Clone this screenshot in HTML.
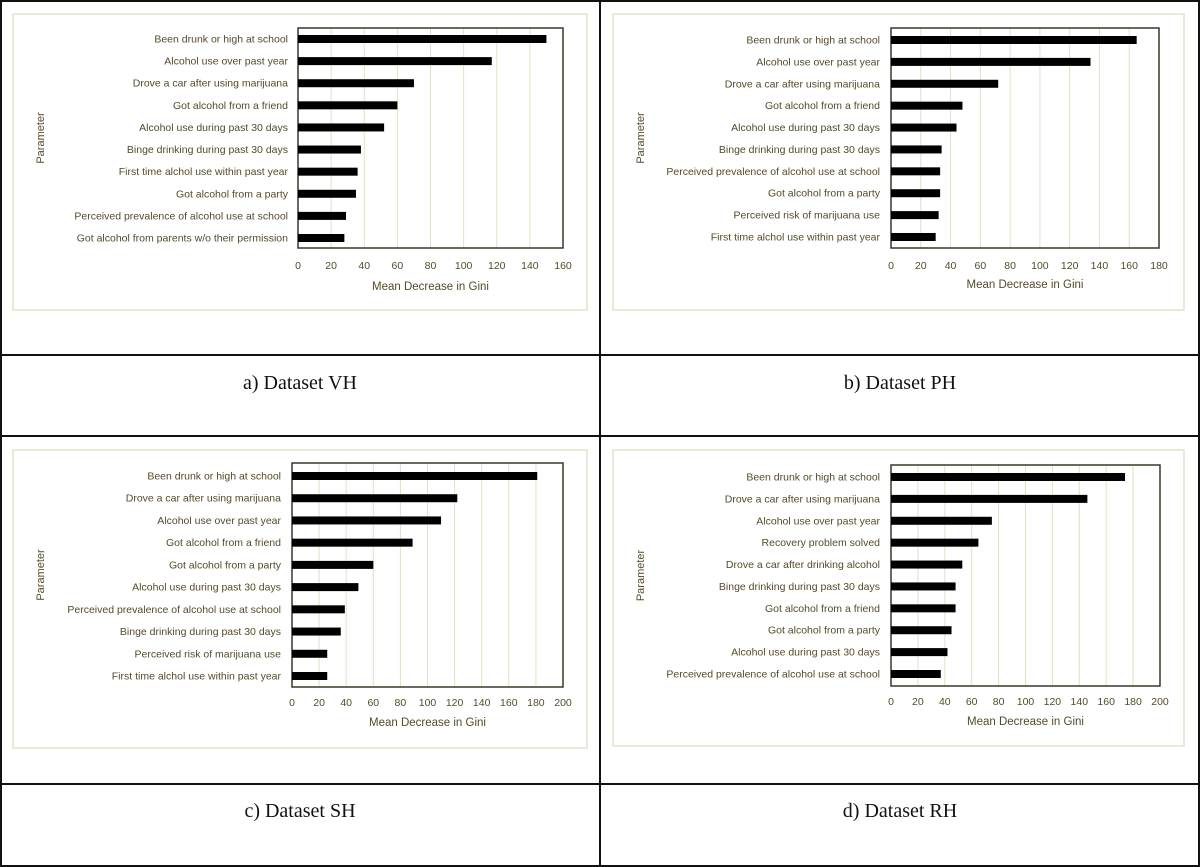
<!DOCTYPE html>
<html><head><meta charset="utf-8">
<style>
html,body{margin:0;padding:0;background:#fff;}
svg{display:block;font-family:"Liberation Sans",sans-serif;}
.lbl{font-size:10.5px;fill:#534b28;}
.cap{font-family:"Liberation Serif",serif;font-size:20px;fill:#111;}
</style></head>
<body>
<svg id="root" width="1200" height="867" viewBox="0 0 1200 867">
  <rect x="1" y="1" width="1198" height="865" fill="#fff" stroke="#111" stroke-width="2"/>
  <line x1="600" y1="0" x2="600" y2="867" stroke="#111" stroke-width="2"/>
  <line x1="0" y1="355" x2="1200" y2="355" stroke="#111" stroke-width="2"/>
  <line x1="0" y1="436" x2="1200" y2="436" stroke="#111" stroke-width="2"/>
  <line x1="0" y1="784" x2="1200" y2="784" stroke="#111" stroke-width="2"/>
  <text class="cap" x="300" y="389" text-anchor="middle">a) Dataset VH</text>
  <text class="cap" x="900" y="389" text-anchor="middle">b) Dataset PH</text>
  <text class="cap" x="300" y="817" text-anchor="middle">c) Dataset SH</text>
  <text class="cap" x="900" y="817" text-anchor="middle">d) Dataset RH</text>
</svg>
<script>
const catsA = ["Been drunk or high at school","Alcohol use over past year","Drove a car after using marijuana","Got alcohol from a friend","Alcohol use during past 30 days","Binge drinking during past 30 days","First time alchol use within past year","Got alcohol from a party","Perceived prevalence of alcohol use at school","Got alcohol from parents w/o their permission"];
const valsA = [150,117,70,60,52,38,36,35,29,28];
const ticksA = [0,20,40,60,80,100,120,140,160];

const catsB = ["Been drunk or high at school","Alcohol use over past year","Drove a car after using marijuana","Got alcohol from a friend","Alcohol use during past 30 days","Binge drinking during past 30 days","Perceived prevalence of alcohol use at school","Got alcohol from a party","Perceived risk of marijuana use","First time alchol use within past year"];
const valsB = [165,134,72,48,44,34,33,33,32,30];
const ticksB = [0,20,40,60,80,100,120,140,160,180];

const catsC = ["Been drunk or high at school","Drove a car after using marijuana","Alcohol use over past year","Got alcohol from a friend","Got alcohol from a party","Alcohol use during past 30 days","Perceived prevalence of alcohol use at school","Binge drinking during past 30 days","Perceived risk of marijuana use","First time alchol use within past year"];
const valsC = [181,122,110,89,60,49,39,36,26,26];
const ticksC = [0,20,40,60,80,100,120,140,160,180,200];

const catsD = ["Been drunk or high at school","Drove a car after using marijuana","Alcohol use over past year","Recovery problem solved","Drove a car after drinking alcohol","Binge drinking during past 30 days","Got alcohol from a friend","Got alcohol from a party","Alcohol use during past 30 days","Perceived prevalence of alcohol use at school"];
const valsD = [174,146,75,65,53,48,48,45,42,37];
const ticksD = [0,20,40,60,80,100,120,140,160,180,200];

const NS = "http://www.w3.org/2000/svg";
const root = document.getElementById("root");
function mk(tag, attrs, parent){const e=document.createElementNS(NS,tag);for(const k in attrs)e.setAttribute(k,attrs[k]);parent.appendChild(e);return e;}

function drawChart(id, cats, vals, ticks, L){
  const g = mk("g",{},root);
  
  
  const frame = mk("rect",{x:L.fx,y:L.fy,width:L.fw,height:L.fh,fill:"#fff",stroke:"#e4e2c8","stroke-width":1.5},g);
  
  
  const max = ticks[ticks.length-1];
  const x = v => L.px0 + (v/max)*(L.px1-L.px0);
  const n = cats.length;
  const step = (L.by1-L.by0)/(n-1);
  const y = i => L.by0 + i*step;
  ticks.forEach(t=>{
    if(t>0 && t<max){
      const gl = mk("line",{x1:x(t),x2:x(t),y1:L.py0,y2:L.py1,stroke:"#e2e0c4","stroke-width":1},g);
      
      
    }
    const tl = mk("text",{x:x(t),y:L.ty,"text-anchor":"middle",class:"lbl"},g);
    tl.textContent = t;
    
    
  });
  const pa = mk("rect",{x:L.px0,y:L.py0,width:L.px1-L.px0,height:L.py1-L.py0,fill:"none",stroke:"#3a3628","stroke-width":1.5},g);
  
  
  cats.forEach((c,i)=>{
    const b = mk("rect",{x:L.px0,y:y(i)-4,width:x(vals[i])-L.px0,height:8,fill:"#000"},g);
    
    
    const t = mk("text",{x:L.lx,y:y(i)+3.5,"text-anchor":"end",class:"lbl"},g);
    t.textContent = c;
    
    
  });
  const xt = mk("text",{x:(L.px0+L.px1)/2,y:L.xty,"text-anchor":"middle",class:"lbl",style:"font-size:11.5px"},g);
  xt.textContent = "Mean Decrease in Gini";
  
  
  const yt = mk("text",{x:0,y:0,"text-anchor":"middle",class:"lbl",style:"font-size:11px",transform:`translate(${L.ytx},${(L.py0+L.py1)/2}) rotate(-90)`},g);
  yt.textContent = "Parameter";
  
  
}

drawChart("a", catsA, valsA, ticksA, {fx:13,fy:14,fw:574,fh:296,px0:298,px1:563,py0:28,py1:248,by0:39,by1:238,lx:288,ty:269,xty:290,ytx:44});
drawChart("b", catsB, valsB, ticksB, {fx:613,fy:14,fw:571,fh:296,px0:891,px1:1159,py0:28,py1:248,by0:40,by1:237,lx:880,ty:269,xty:288,ytx:644});
drawChart("c", catsC, valsC, ticksC, {fx:13,fy:450,fw:574,fh:298,px0:292,px1:563,py0:463,py1:687,by0:476,by1:676,lx:281,ty:706,xty:726,ytx:44});
drawChart("d", catsD, valsD, ticksD, {fx:613,fy:450,fw:571,fh:296,px0:891,px1:1160,py0:465,py1:686,by0:477,by1:674,lx:880,ty:705,xty:725,ytx:644});
</script>
</body></html>
